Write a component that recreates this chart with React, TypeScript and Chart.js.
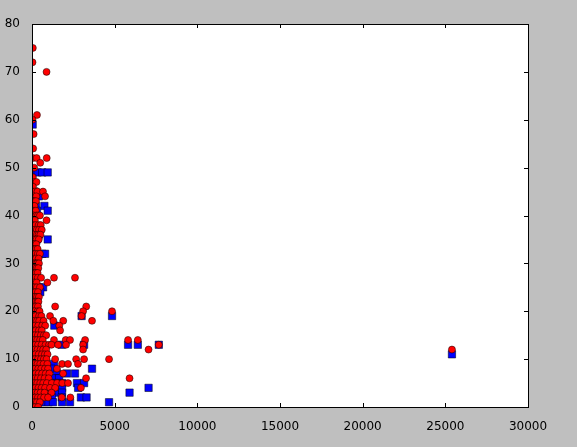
import React, { useEffect, useRef } from "react";
import { Chart, registerables } from "chart.js";

Chart.register(...registerables);

const xTicks = [0, 5000, 10000, 15000, 20000, 25000, 30000];
const yTicks = [0, 10, 20, 30, 40, 50, 60, 70, 80];

// Each row: [y value, x values]
const blueRows: [number, number[]][] = [
  [59, [40]],
  [49, [40, 340, 620, 950]],
  [45, [150]],
  [44, [130, 420]],
  [43, [100]],
  [42, [60, 240, 750]],
  [41, [300, 950]],
  [40, [120]],
  [36, [420]],
  [35, [300, 950]],
  [32, [620, 790]],
  [30, [240]],
  [25, [420, 670]],
  [24, [500]],
  [19, [3000, 4840]],
  [17, [1350]],
  [13, [1800, 3150, 5810, 6400, 7670]],
  [11, [25400]],
  [9, [1330]],
  [8, [1180, 3630]],
  [7, [1510, 2120, 2600]],
  [6, [1390, 1640]],
  [5, [1330, 1520, 1820, 2720, 3150]],
  [4, [1330, 1640, 1820, 2790, 7050]],
  [3, [1210, 1400, 1820, 5900]],
  [2, [730, 1030, 1210, 1800, 2960, 3300]],
  [1, [300, 550, 790, 1000, 1270, 1820, 2300, 4660]],
];

const redRows: [number, number[]][] = [
  [75, [50]],
  [72, [30]],
  [70, [880]],
  [61, [300]],
  [60, [30]],
  [57, [100]],
  [54, [70]],
  [52, [50, 280, 890]],
  [51, [500]],
  [50, [130]],
  [48, [50]],
  [47, [130, 270]],
  [46, [60]],
  [45, [50, 180, 330, 665]],
  [44, [100, 260, 790]],
  [43, [40, 130, 240]],
  [42, [30, 90, 150]],
  [41, [40, 120, 230]],
  [40, [30, 110, 260, 360, 480]],
  [39, [880, 40, 170]],
  [38, [60, 220, 400, 530]],
  [37, [30, 130, 290, 420, 590]],
  [36, [40, 110, 300, 400, 510]],
  [35, [50, 190, 280, 410]],
  [34, [70, 150, 260]],
  [33, [40, 110, 240, 340]],
  [32, [30, 120, 210, 350, 480]],
  [31, [60, 240, 400]],
  [30, [50, 150, 250, 320, 420]],
  [29, [40, 130, 280, 380]],
  [28, [70, 210, 240, 340]],
  [27, [50, 180, 350, 550, 1330, 2600]],
  [26, [30, 130, 280, 930]],
  [25, [60, 180, 300, 480]],
  [24, [40, 150, 220, 360]],
  [23, [70, 180, 310, 420]],
  [22, [40, 120, 230, 330, 390]],
  [21, [60, 230, 360, 1400, 3280]],
  [20, [30, 150, 340, 460, 3090, 4840]],
  [19, [50, 210, 430, 570, 1090, 3000]],
  [18, [40, 160, 310, 440, 700, 1290, 1890, 3630]],
  [17, [30, 190, 380, 620, 800, 1650]],
  [16, [60, 230, 420, 590, 1700]],
  [15, [50, 180, 360, 540, 720, 860]],
  [14, [30, 170, 320, 490, 650, 1330, 2040, 2300, 3210, 5810, 6400]],
  [13, [50, 200, 370, 580, 820, 1030, 1180, 1580, 2060, 3090, 7670]],
  [12, [40, 180, 340, 520, 680, 860, 3090, 7050, 25400]],
  [11, [30, 210, 400, 600, 780, 940]],
  [10, [50, 190, 360, 540, 720, 880, 1400, 2670, 3150, 4660]],
  [9, [40, 170, 330, 500, 700, 930, 1820, 2180, 2780]],
  [8, [30, 200, 380, 560, 780, 970, 1510]],
  [7, [60, 220, 400, 610, 830, 1050, 1880]],
  [6, [40, 190, 350, 540, 760, 1010, 3270, 5900]],
  [5, [30, 170, 320, 500, 680, 900, 1200, 1520, 1830, 2180]],
  [4, [50, 210, 390, 580, 790, 1090, 1400, 2960]],
  [3, [40, 180, 340, 520, 760, 1180]],
  [2, [30, 190, 360, 540, 730, 970, 1800, 2320]],
  [1, [50, 160, 300, 480]],
  [0, [40, 200, 370]],
];

const toPoints = (rows: [number, number[]][]) =>
  rows.flatMap(([y, xs]) => xs.map((x) => ({ x, y })));

export default function App() {
  const ref = useRef<HTMLCanvasElement>(null);

  useEffect(() => {
    const frame = {
      id: "frame",
      beforeDraw(c: any) {
        const { ctx, width, height, chartArea: a } = c;
        ctx.save();
        ctx.fillStyle = "#bfbfbf";
        ctx.fillRect(0, 0, width, height);
        ctx.fillStyle = "#ffffff";
        ctx.fillRect(a.left, a.top, a.right - a.left, a.bottom - a.top);
        ctx.restore();
      },
      afterDatasetsDraw(c: any) {
        const { ctx, chartArea: a, scales } = c;
        ctx.save();
        ctx.strokeStyle = "#000000";
        ctx.lineWidth = 1;
        ctx.beginPath();
        xTicks.forEach((v) => {
          const p = Math.round(scales.x.getPixelForValue(v)) + 0.5;
          ctx.moveTo(p, a.bottom);
          ctx.lineTo(p, a.bottom - 4);
          ctx.moveTo(p, a.top);
          ctx.lineTo(p, a.top + 4);
        });
        yTicks.forEach((v) => {
          const p = Math.round(scales.y.getPixelForValue(v)) + 0.5;
          ctx.moveTo(a.left, p);
          ctx.lineTo(a.left + 4, p);
          ctx.moveTo(a.right, p);
          ctx.lineTo(a.right - 4, p);
        });
        ctx.stroke();
        ctx.strokeRect(a.left + 0.5, a.top + 0.5, a.right - a.left, a.bottom - a.top);
        ctx.restore();
      },
    };

    const chart = new Chart(ref.current!, {
      type: "scatter",
      data: {
        datasets: [
          {
            data: toPoints(redRows),
            pointStyle: "circle",
            pointRadius: 3.5,
            backgroundColor: "#ff0000",
            borderColor: "#000000",
            borderWidth: 0.5,
            clip: 0,
          },
          {
            data: toPoints(blueRows),
            pointStyle: "rect",
            pointRadius: 5.2,
            backgroundColor: "#0000ff",
            borderColor: "#000000",
            borderWidth: 0.5,
            clip: 0,
          },
        ],
      },
      options: {
        animation: false,
        responsive: false,
        layout: { padding: { top: 24, right: 49, left: 0, bottom: 0 } },
        plugins: { legend: { display: false }, tooltip: { enabled: false } },
        scales: {
          x: {
            type: "linear",
            min: 0,
            max: 30000,
            afterFit: (s: any) => {
              s.height = 40;
            },
            afterBuildTicks: (s: any) => {
              s.ticks = xTicks.map((value) => ({ value }));
            },
            grid: { display: false },
            border: { display: false },
            ticks: {
              color: "#000000",
              padding: 5,
              maxRotation: 0,
              autoSkip: false,
              font: { family: "DejaVu Sans", size: 12 },
              callback: (v: any) => String(v),
            },
          },
          y: {
            type: "linear",
            min: 0,
            max: 80,
            afterFit: (s: any) => {
              s.width = 32;
            },
            afterBuildTicks: (s: any) => {
              s.ticks = yTicks.map((value) => ({ value }));
            },
            grid: { display: false },
            border: { display: false },
            ticks: {
              color: "#000000",
              padding: 4,
              autoSkip: false,
              font: { family: "DejaVu Sans", size: 12 },
              callback: (v: any) => String(v),
            },
          },
        },
      },
      plugins: [frame],
    } as any);
    return () => chart.destroy();
  }, []);

  return (
    <canvas
      ref={ref}
      width={577}
      height={447}
      style={{ position: "absolute", left: 0, top: 0, display: "block" }}
    />
  );
}
